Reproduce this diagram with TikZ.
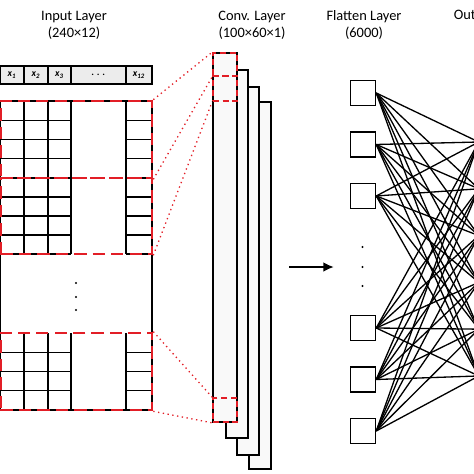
\documentclass[tikz,border=0pt]{standalone}
\usepackage{fontspec}
\setmainfont{Carlito}
\usepackage{tikz}
\usetikzlibrary{arrows.meta,fit}
\definecolor{winred}{RGB}{226,30,38}
\tikzstyle{title} = [align=center,font=\fontsize{8.2}{9.7}\selectfont,inner sep=0pt]
\tikzstyle{xlabel} = [font=\fontsize{5.5}{6}\selectfont\bfseries\itshape,inner sep=0pt]
\tikzstyle{grid} = [draw,line width=0.75pt]
\tikzstyle{sheet} = [draw,fill=gray!5,line width=0.85pt]
\tikzstyle{window} = [draw=winred,line width=1.5pt,dash pattern=on 7pt off 3.5pt,inner sep=0pt]
\tikzstyle{cwindow} = [draw=winred,line width=0.95pt,dash pattern=on 3.5pt off 2pt,inner sep=0pt]
\tikzstyle{proj} = [winred,line width=0.75pt,dotted]
\tikzstyle{unit} = [draw,fill=white,shape=rectangle,minimum size=0.5cm,inner sep=0pt,line width=0.85pt,node distance=1.03cm]
\tikzstyle{link} = [line width=0.75pt]

\begin{document}
\begin{tikzpicture}[x=0.02cm,y=-0.02cm]
\clip (0,0) rectangle (474,474);

% titles
\node[title] (tin)   at (74,25)  {Input Layer\\(240×12)};
\node[title] (tconv) at (252,25) {Conv. Layer\\(100×60×1)};
\node[title] (tflat) at (364,25) {Flatten Layer\\(6000)};
\node[title] (tout)  at (492,16) {Output Layer};

% input header
\draw[grid,fill=gray!15] (0.5,66) rectangle (152,84);
\foreach \x in {24,48,71,126}
  \draw[grid] (\x,66) -- (\x,84);
\node[xlabel] (h1)  at (12,75)  {x\textsubscript{1}};
\node[xlabel] (h2)  at (36,75)  {x\textsubscript{2}};
\node[xlabel] (h3)  at (59.5,75) {x\textsubscript{3}};
\node[xlabel] (h4)  at (98.5,75) {. . .};
\node[xlabel] (h12) at (139,75) {x\textsubscript{12}};

% input grid
\draw[grid] (0,101) rectangle (152,410);
\draw[line width=1.6pt] (0,101) -- (0,410);
\foreach \top/\bot in {101/178,178/254,333/410} {
  \draw[grid] (24,\top) -- (24,\bot);
  \draw[grid] (48,\top) -- (48,\bot);
  \draw[grid] (71,\top) -- (71,\bot);
  \draw[grid] (126,\top) -- (126,\bot);
  \foreach \k in {1,2,3,4} {
    \pgfmathsetmacro\yy{\top+\k*(\bot-\top)/4}
    \draw[grid] (0,\yy) -- (71,\yy);
    \draw[grid] (126,\yy) -- (152,\yy);
  }
}
\foreach \y in {283,297,310}
  \fill (76,\y) circle (0.6pt);

% conv stack
\draw[sheet] (249,102) rectangle (271,469);
\draw[sheet] (237,87) rectangle (259,455);
\draw[sheet] (226,70) rectangle (248,438);
\draw[sheet] (213,53) rectangle (237,422);

% sliding windows
\node[window,fit={(0.5,101) (152,178)}] (w1) {};
\node[window,fit={(0.5,178) (152,254)}] (w2) {};
\node[window,fit={(0.5,333) (152,410)}] (w3) {};
\node[cwindow,fit={(213,53) (237,76)}]  (c1) {};
\node[cwindow,fit={(213,76) (237,101)}] (c2) {};
\node[cwindow,fit={(213,398) (237,422)}] (c3) {};
\draw[proj] (w1.north east) -- (c1.north west);
\draw[proj] (w1.south east) -- (c1.south west);
\draw[proj] (w2.south east) -- (c2.south west);
\draw[proj] (w3.north east) -- (c3.north west);
\draw[proj] (w3.south east) -- (c3.south west);

% arrow
\coordinate (aS) at (289,267);
\coordinate (aE) at (334,267);
\draw[-{Latex[length=6pt,width=5.5pt]},line width=1.7pt] (aS) -- (aE);

% flatten layer
\node[unit] (f1) at (363,93) {};
\node[unit,below of=f1] (f2) {};
\node[unit,below of=f2] (f3) {};
\node[unit] (f4) at (363,328) {};
\node[unit,below of=f4] (f5) {};
\node[unit,below of=f5] (f6) {};
\foreach \y in {247,267,286}
  \fill (362.5,\y) circle (0.6pt);

% output layer
\node[unit] (o1) at (492,142) {};
\node[unit,below of=o1,node distance=0.936cm] (o2) {};
\node[unit,below of=o2,node distance=0.936cm] (o3) {};
\node[unit,below of=o3,node distance=0.936cm] (o4) {};
\node[unit,below of=o4,node distance=0.936cm] (o5) {};
\node[unit,below of=o5,node distance=0.936cm] (o6) {};

\foreach \i in {1,...,6}
  \foreach \j in {1,...,6}
    \draw[link] (f\i.east) -- (o\j.west);
\end{tikzpicture}
\end{document}
